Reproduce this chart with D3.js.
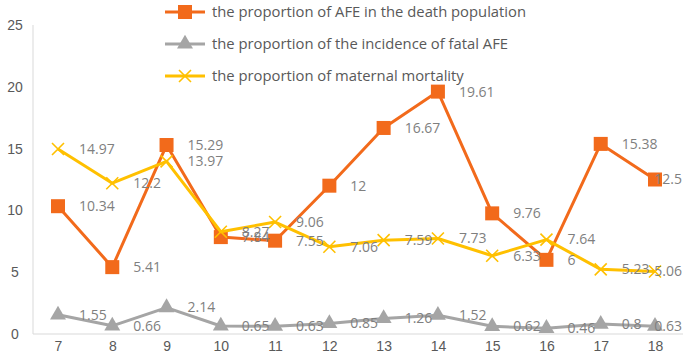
<!DOCTYPE html>
<html><head><meta charset="utf-8">
<script src="https://cdn.jsdelivr.net/npm/d3@7"></script>
<style>body{margin:0;background:#fff}svg{display:block;font-family:"Open Sans",sans-serif}</style>
</head><body><svg id="c" width="685" height="363"></svg>
<script>
const categories = ["7","8","9","10","11","12","13","14","15","16","17","18"];
const afeDeath = [10.34,5.41,15.29,7.84,7.55,12,16.67,19.61,9.76,6,15.38,12.5];
const fatalAfe = [1.55,0.66,2.14,0.65,0.63,0.85,1.26,1.52,0.62,0.46,0.8,0.63];
const maternal = [14.97,12.2,13.97,8.27,9.06,7.06,7.59,7.73,6.33,7.64,5.23,5.06];
const seriesNames = ["the proportion of AFE in the death population","the proportion of the incidence of fatal AFE","the proportion of maternal mortality"];
const yTicks = [0,5,10,15,20,25];

const svg = d3.select("#c");
const x = d3.scalePoint().domain(categories).range([58,655]);
const y = d3.scaleLinear().domain([0,25]).range([334,25]);

svg.append("line").attr("x1",33).attr("x2",683).attr("y1",y(0)).attr("y2",y(0)).attr("stroke","#d9d9d9").attr("stroke-width",1);
svg.append("line").attr("x1",33).attr("x2",33).attr("y1",y(25)).attr("y2",y(0)).attr("stroke","#d9d9d9").attr("stroke-width",1);

const yAxis = d3.axisLeft(y).tickValues(yTicks).tickSize(0).tickPadding(0);
const gy = svg.append("g").attr("transform","translate(22,0)").call(yAxis);
gy.select(".domain").remove();
gy.selectAll("text").attr("font-size",14).attr("fill","#595959").attr("text-anchor","middle").attr("x",-7);

const xAxis = d3.axisBottom(x).tickSize(0).tickPadding(0);
const gx = svg.append("g").attr("transform","translate(0,341)").call(xAxis);
gx.select(".domain").remove();
gx.selectAll("text").attr("font-size",14).attr("fill","#595959");

const series = [
  {name:seriesNames[0], data:afeDeath, color:"#F26A1B", marker:"square"},
  {name:seriesNames[1], data:fatalAfe, color:"#A5A5A5", marker:"triangle"},
  {name:seriesNames[2], data:maternal, color:"#FFC000", marker:"x"}
];

function drawMarker(g, type, cx, cy, color){
  if(type==="square"){
    g.append("rect").attr("x",cx-7).attr("y",cy-7).attr("width",14).attr("height",14).attr("fill",color);
  } else if(type==="triangle"){
    g.append("path").attr("d",d3.symbol().type(d3.symbolTriangle).size(110)()).attr("transform",`translate(${cx},${cy})`).attr("fill",color);
  } else {
    g.append("path").attr("d",`M${cx-6},${cy-6}L${cx+6},${cy+6}M${cx-6},${cy+6}L${cx+6},${cy-6}`).attr("stroke",color).attr("stroke-width",1.6).attr("fill","none");
  }
}

const line = d3.line().x((d,i)=>x(categories[i])).y(d=>y(d));
[series[1], series[0], series[2]].forEach(s=>{
  const g = svg.append("g");
  g.append("path").datum(s.data).attr("d",line).attr("fill","none").attr("stroke",s.color).attr("stroke-width",3).attr("stroke-linejoin","round");
  s.data.forEach((v,i)=>drawMarker(g,s.marker,x(categories[i]),y(v),s.color));
});
const last = categories.length-1;
series.forEach(s=>{
  svg.append("g").selectAll("text").data(s.data).join("text")
    .attr("x",(d,i)=> i===last ? 682 : x(categories[i])+21)
    .attr("text-anchor",(d,i)=> i===last ? "end" : "start")
    .attr("y",d=>y(d)).attr("dy","0.35em")
    .attr("font-size",14).attr("fill","#7f7f7f").text(d=>d);
});

series.forEach((s,i)=>{
  const ly = 12 + i*32;
  const g = svg.append("g");
  g.append("line").attr("x1",165).attr("x2",205).attr("y1",ly).attr("y2",ly).attr("stroke",s.color).attr("stroke-width",3);
  drawMarker(g,s.marker,185,ly,s.color);
  g.append("text").attr("x",212).attr("y",ly).attr("dy","0.35em").attr("font-size",14.8).attr("fill","#595959").text(s.name);
});
</script></body></html>
